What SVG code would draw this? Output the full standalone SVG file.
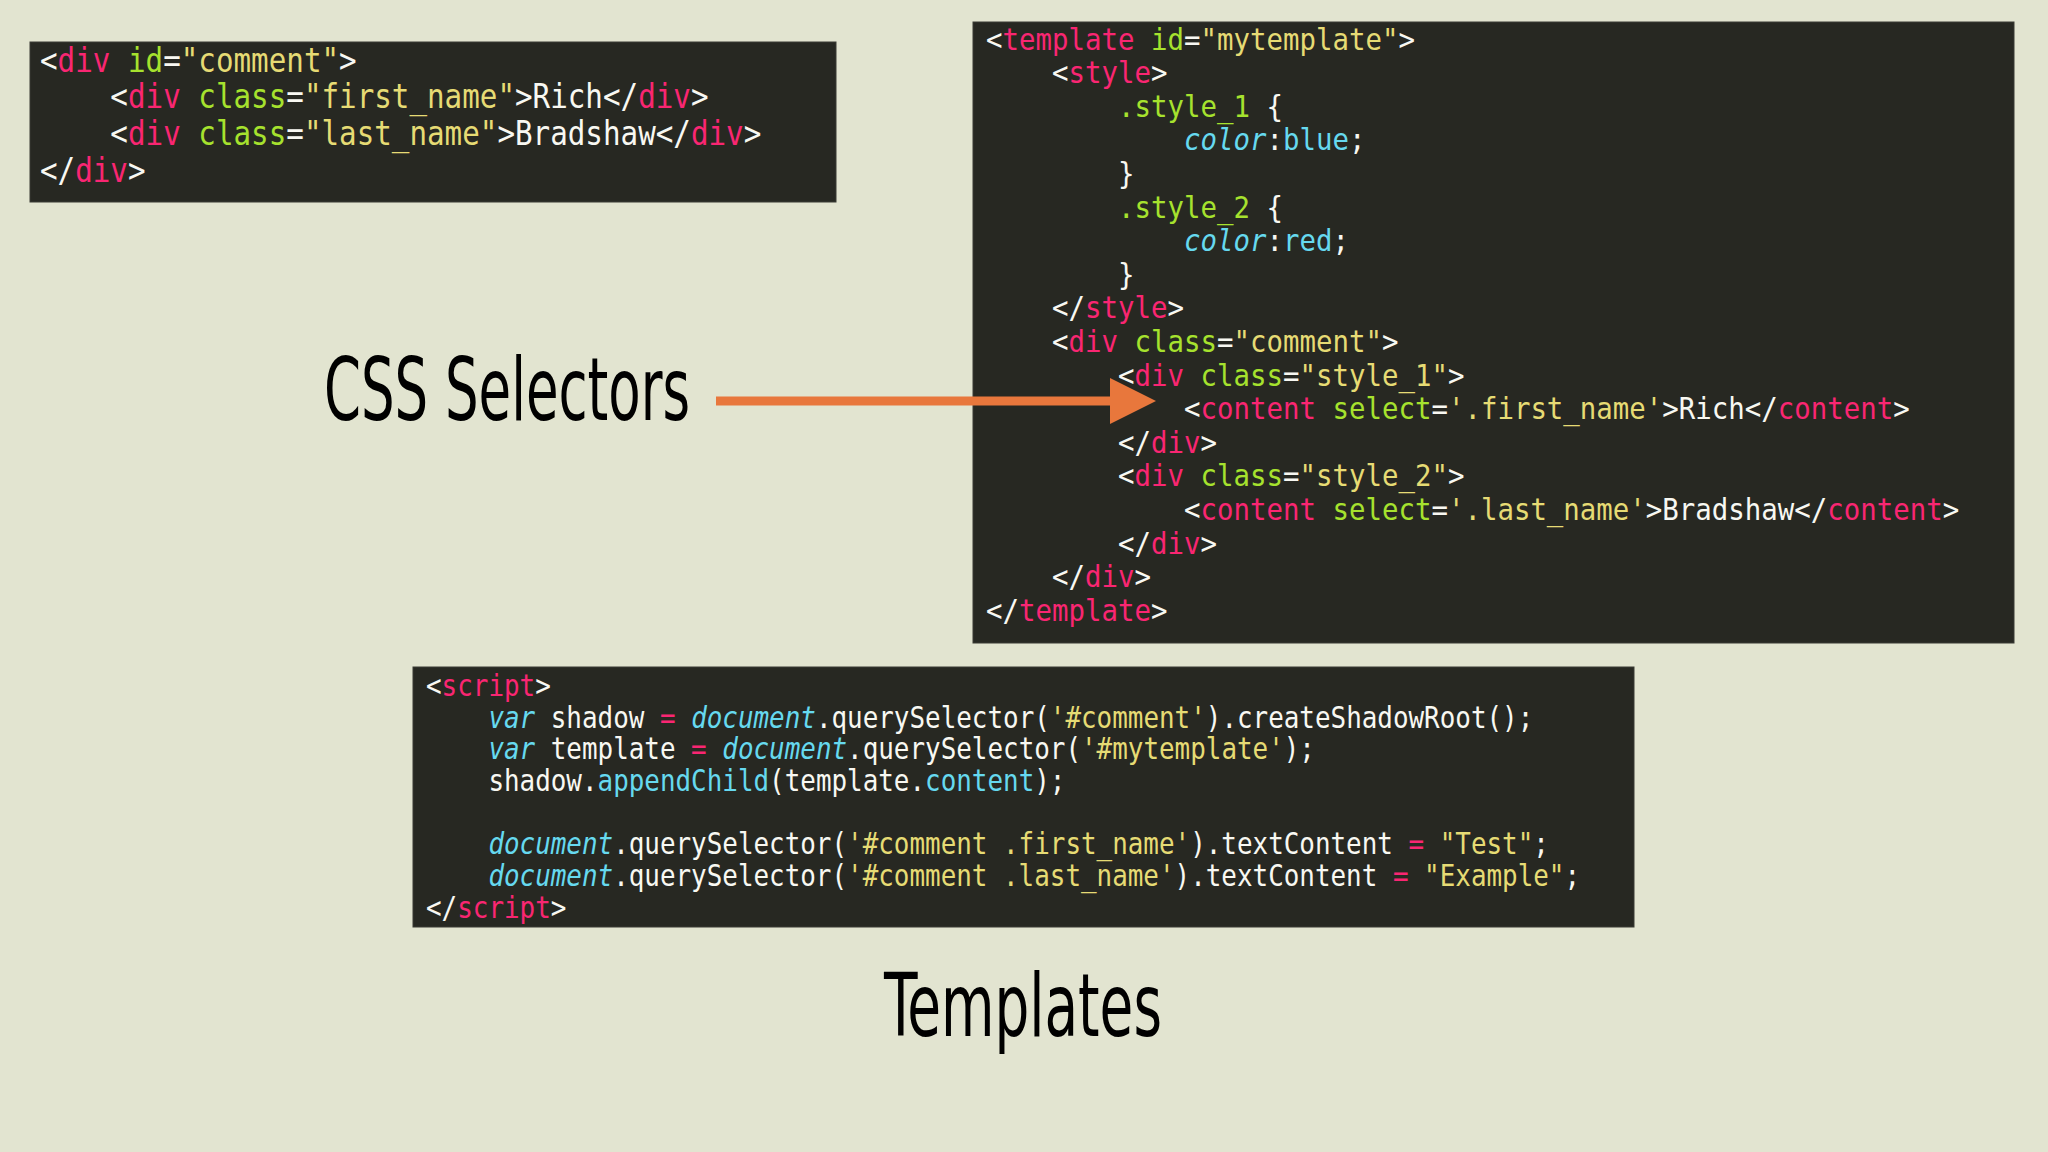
<svg xmlns="http://www.w3.org/2000/svg" width="2048" height="1152" viewBox="0 0 2048 1152">
<style>
.code text{font-family:"DejaVu Sans Mono","Liberation Mono",monospace;fill:#f8f8f2;white-space:pre}
.p{fill:#f92672}.g{fill:#a6e22e}.y{fill:#e6db74}.c{fill:#66d9ef;font-style:italic}.cn{fill:#66d9ef}
.box{fill:#272822;stroke:#3a3b34;stroke-width:1}
.title{font-family:"DejaVu Sans Condensed","DejaVu Sans",sans-serif;fill:#000}
</style>
<rect width="2048" height="1152" fill="#e2e4d0"/>
<g id="html-box">
<rect class="box" x="30" y="42" width="806" height="160"/>
<g class="code" transform="translate(40,0) scale(0.86,1)" font-size="34" xml:space="preserve">
<text y="72">&lt;<tspan class="p">div</tspan> <tspan class="g">id</tspan>=<tspan class="y">"comment"</tspan>&gt;</text>
<text y="108">    &lt;<tspan class="p">div</tspan> <tspan class="g">class</tspan>=<tspan class="y">"first_name"</tspan>&gt;Rich&lt;/<tspan class="p">div</tspan>&gt;</text>
<text y="145">    &lt;<tspan class="p">div</tspan> <tspan class="g">class</tspan>=<tspan class="y">"last_name"</tspan>&gt;Bradshaw&lt;/<tspan class="p">div</tspan>&gt;</text>
<text y="182">&lt;/<tspan class="p">div</tspan>&gt;</text>
</g>
</g>
<g id="template-box">
<rect class="box" x="973" y="22" width="1041" height="621"/>
<g class="code" transform="translate(986,0) scale(0.884,1)" font-size="31" xml:space="preserve">
<text y="49.6">&lt;<tspan class="p">template</tspan> <tspan class="g">id</tspan>=<tspan class="y">"mytemplate"</tspan>&gt;</text>
<text y="83.2">    &lt;<tspan class="p">style</tspan>&gt;</text>
<text y="116.8">        <tspan class="g">.style_1</tspan> {</text>
<text y="150.4">            <tspan class="c">color</tspan>:<tspan class="cn">blue</tspan>;</text>
<text y="184">        }</text>
<text y="217.6">        <tspan class="g">.style_2</tspan> {</text>
<text y="251.2">            <tspan class="c">color</tspan>:<tspan class="cn">red</tspan>;</text>
<text y="284.8">        }</text>
<text y="318.4">    &lt;/<tspan class="p">style</tspan>&gt;</text>
<text y="352">    &lt;<tspan class="p">div</tspan> <tspan class="g">class</tspan>=<tspan class="y">"comment"</tspan>&gt;</text>
<text y="385.6">        &lt;<tspan class="p">div</tspan> <tspan class="g">class</tspan>=<tspan class="y">"style_1"</tspan>&gt;</text>
<text y="419.2">            &lt;<tspan class="p">content</tspan> <tspan class="g">select</tspan>=<tspan class="y">'.first_name'</tspan>&gt;Rich&lt;/<tspan class="p">content</tspan>&gt;</text>
<text y="452.8">        &lt;/<tspan class="p">div</tspan>&gt;</text>
<text y="486.4">        &lt;<tspan class="p">div</tspan> <tspan class="g">class</tspan>=<tspan class="y">"style_2"</tspan>&gt;</text>
<text y="520">            &lt;<tspan class="p">content</tspan> <tspan class="g">select</tspan>=<tspan class="y">'.last_name'</tspan>&gt;Bradshaw&lt;/<tspan class="p">content</tspan>&gt;</text>
<text y="553.6">        &lt;/<tspan class="p">div</tspan>&gt;</text>
<text y="587.2">    &lt;/<tspan class="p">div</tspan>&gt;</text>
<text y="620.8">&lt;/<tspan class="p">template</tspan>&gt;</text>
</g>
</g>
<g id="script-box">
<rect class="box" x="413" y="667" width="1221" height="260"/>
<g class="code" transform="translate(426,0) scale(0.864,1)" font-size="30" xml:space="preserve">
<text y="696">&lt;<tspan class="p">script</tspan>&gt;</text>
<text y="727.7">    <tspan class="c">var</tspan> shadow <tspan class="p">=</tspan> <tspan class="c">document</tspan>.querySelector(<tspan class="y">'#comment'</tspan>).createShadowRoot();</text>
<text y="759.4">    <tspan class="c">var</tspan> template <tspan class="p">=</tspan> <tspan class="c">document</tspan>.querySelector(<tspan class="y">'#mytemplate'</tspan>);</text>
<text y="791.1">    shadow.<tspan class="cn">appendChild</tspan>(template.<tspan class="cn">content</tspan>);</text>
<text y="854.5">    <tspan class="c">document</tspan>.querySelector(<tspan class="y">'#comment .first_name'</tspan>).textContent <tspan class="p">=</tspan> <tspan class="y">"Test"</tspan>;</text>
<text y="886.2">    <tspan class="c">document</tspan>.querySelector(<tspan class="y">'#comment .last_name'</tspan>).textContent <tspan class="p">=</tspan> <tspan class="y">"Example"</tspan>;</text>
<text y="917.9">&lt;/<tspan class="p">script</tspan>&gt;</text>
</g>
</g>
<g id="label-css"><text class="title" x="324" y="420" font-size="88" textLength="366" lengthAdjust="spacingAndGlyphs">CSS Selectors</text></g>
<g id="label-templates"><text class="title" x="884" y="1036" font-size="88" textLength="278" lengthAdjust="spacingAndGlyphs">Templates</text></g>
<g id="connectors">
<line x1="716" y1="401" x2="1115" y2="401" stroke="#e8773c" stroke-width="9"/>
<polygon points="1110,378 1156,401 1110,424" fill="#e8773c"/>
</g>
</svg>
